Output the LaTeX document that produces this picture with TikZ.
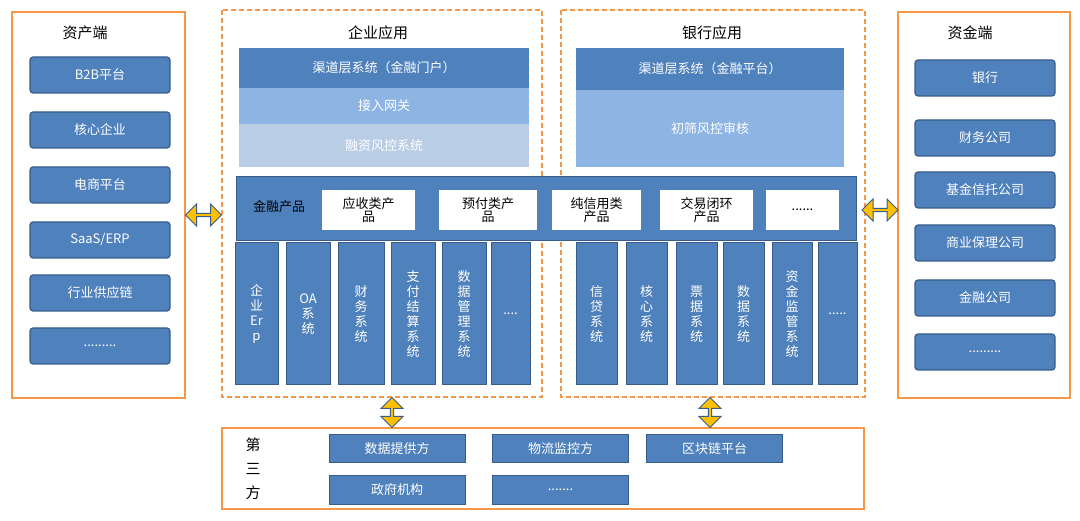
\documentclass[tikz,border=0pt]{standalone}
\usepackage{fontspec}
\setmainfont{Noto Sans CJK SC}
\usetikzlibrary{shapes.arrows}
\definecolor{bl}{HTML}{4F81BD}
\definecolor{bd}{HTML}{385D8A}
\definecolor{lb}{HTML}{8EB4E3}
\definecolor{llb}{HTML}{B9CDE5}
\definecolor{og}{HTML}{F79646}
\definecolor{yl}{HTML}{FFC000}
\begin{document}
\begin{tikzpicture}[x=1pt,y=-1pt,
 item/.style={draw=bd,line width=1.2pt,fill=bl,rounded corners=3pt,text=white,font=\fontsize{13}{14}\selectfont},
 col/.style={draw=bd,line width=1pt,fill=bl,text=white,font=\fontsize{13}{15}\selectfont,align=center},
 wbox/.style={fill=white,font=\fontsize{13}{13}\selectfont,align=center},
 tp/.style={draw=bd,line width=1pt,fill=bl,text=white,font=\fontsize{13}{14}\selectfont},
 dbox/.style={draw=og,line width=1.5pt,dash pattern=on 5pt off 3pt},
 sbox/.style={draw=og,line width=1.2pt},
 ttl/.style={font=\fontsize{15}{16}\selectfont},
 harr/.style={double arrow,draw=bd,fill=yl,line width=1pt,minimum height=36pt,minimum width=22pt,double arrow head extend=3pt,inner sep=0pt},
]
\useasboundingbox (0,0) rectangle (1080,521);
% left
\draw[sbox] (12,12) rectangle (185,398);
\node[ttl] (lt) at (85,33) {资产端};
\foreach \n/\y/\t in {a1/75/{B2B平台},a2/130/{核心企业},a3/185/{电商平台},a4/240/{SaaS/ERP},a5/293/{行业供应链},a6/346/{.........}}
 \node[item,minimum width=140pt,minimum height=36pt] (\n) at (100,\y) {\t};
% right
\draw[sbox] (898,12) rectangle (1070,398);
\node[ttl] (rt) at (970,33) {资金端};
\foreach \n/\y/\t in {b1/78/{银行},b2/138/{财务公司},b3/190/{基金信托公司},b4/243/{商业保理公司},b5/298/{金融公司},b6/352/{.........}}
 \node[item,minimum width=140pt,minimum height=36pt] (\n) at (985,\y) {\t};
% dashed boxes
\draw[dbox] (222,10) rectangle (542,397);
\draw[dbox] (561,10) rectangle (865,397);
\node[ttl] (et) at (378,33) {企业应用};
\node[ttl] (bt) at (712,33) {银行应用};
\node[fill=bl,text=white,minimum width=290pt,minimum height=40pt,font=\fontsize{13}{14}\selectfont] (ec) at (384,68) {渠道层系统（金融门户）};
\node[fill=lb,text=white,minimum width=290pt,minimum height=36pt,font=\fontsize{13}{14}\selectfont] (eg) at (384,106) {接入网关};
\node[fill=llb,text=white,minimum width=290pt,minimum height=43pt,font=\fontsize{13}{14}\selectfont] (er) at (384,145.5) {融资风控系统};
\node[fill=bl,text=white,minimum width=268pt,minimum height=42pt,font=\fontsize{13}{14}\selectfont] (bc) at (710,69) {渠道层系统（金融平台）};
\node[fill=lb,text=white,minimum width=268pt,minimum height=77pt,font=\fontsize{13}{14}\selectfont] (br) at (710,128.5) {初筛风控审核};
% product bar
\node[fill=bl,draw=bd,minimum width=620pt,minimum height=64pt] (pb) at (546,208) {};
\node[font=\fontsize{13}{14}\selectfont] (pl) at (279,207) {金融产品};
\foreach \n/\x/\w/\t in {p1/368.5/93/{应收类产\\品},p2/488/98/{预付类产\\品},p3/596.5/89/{纯信用类\\产品},p4/706.5/93/{交易闭环\\产品},p5/802.5/73/{......}}
 \node[wbox,minimum width={\w*1pt},minimum height=40pt,inner sep=1pt] (\n) at (\x,210) {\t};
% columns
\foreach \n/\a/\b/\t in {c1/235/278/{企\\业\\Er\\p},c2/286/330/{OA\\系\\统},c3/338/384/{财\\务\\系\\统},c4/391/435/{支\\付\\结\\算\\系\\统},c5/442/486/{数\\据\\管\\理\\系\\统},c6/491/530/{....},
 d1/576/617/{信\\贷\\系\\统},d2/626/667/{核\\心\\系\\统},d3/676/717/{票\\据\\系\\统},d4/723/764/{数\\据\\系\\统},d5/772/812/{资\\金\\监\\管\\系\\统},d6/818/857/{.....}}
 \node[col,minimum width={(\b-\a)*1pt},minimum height=142pt,inner sep=0pt] (\n) at ({(\a+\b)/2},314) {\t};
% third party
\draw[sbox] (222,428) rectangle (864,509);
\node[align=center,font=\fontsize{15}{24}\selectfont] (tt) at (253,469) {第\\三\\方};
\foreach \n/\x/\y/\t in {t1/397/449/{数据提供方},t2/560.5/449/{物流监控方},t3/714.5/449/{区块链平台},t4/397/490/{政府机构},t5/560.5/490/{.......}}
 \node[tp,minimum width=136pt,minimum height=28pt] (\n) at (\x,\y) {\t};
% arrows
\node[harr] (ha1) at (203.5,215) {};
\node[harr] (ha2) at (880,210) {};
\node[harr,rotate=90,minimum height=30pt] (va1) at (392,412.5) {};
\node[harr,rotate=90,minimum height=30pt] (va2) at (710,412.5) {};
\end{tikzpicture}
\end{document}
